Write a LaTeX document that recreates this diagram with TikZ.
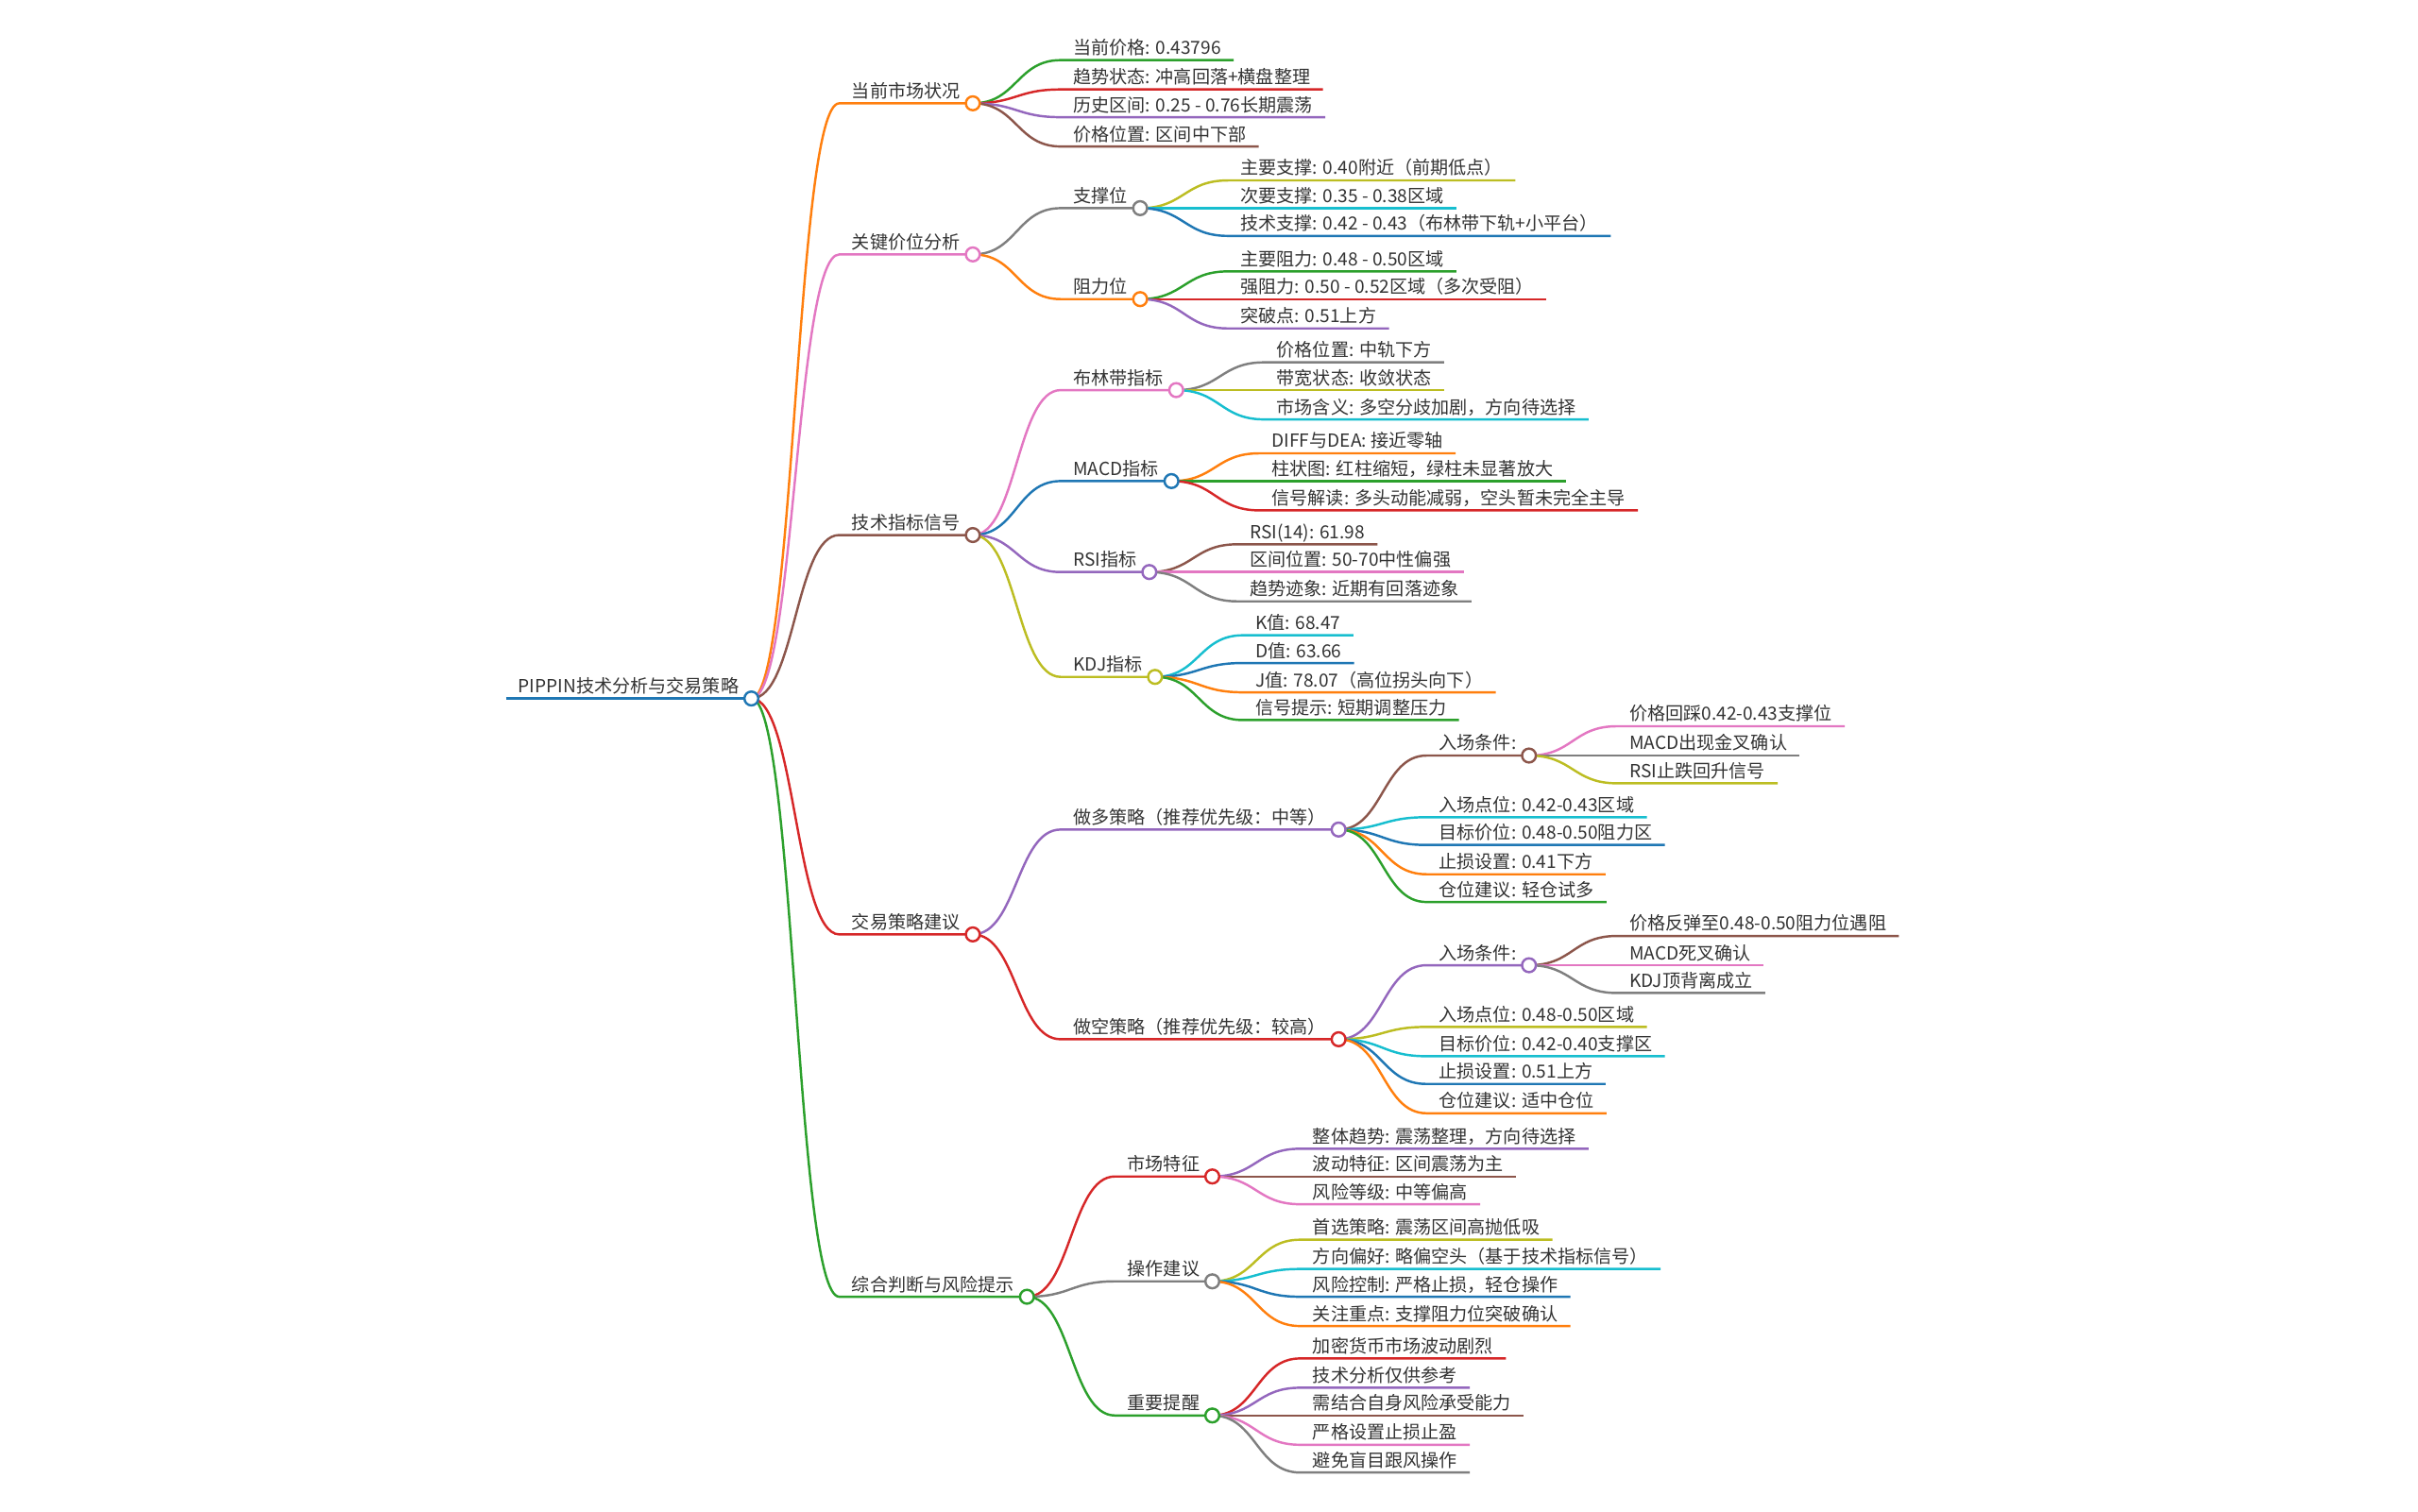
\documentclass[tikz,border=0pt]{standalone}
\usepackage{fontspec}
\setmainfont{Noto Sans CJK SC}
\usetikzlibrary{calc}
\definecolor{cblue}{HTML}{1F77B4}
\definecolor{corange}{HTML}{FF7F0E}
\definecolor{cgreen}{HTML}{2CA02C}
\definecolor{cred}{HTML}{D62728}
\definecolor{cpurple}{HTML}{9467BD}
\definecolor{cbrown}{HTML}{8C564B}
\definecolor{cpink}{HTML}{E377C2}
\definecolor{cgray}{HTML}{7F7F7F}
\definecolor{colive}{HTML}{BCBD22}
\definecolor{ccyan}{HTML}{17BECF}
\definecolor{txt}{HTML}{333333}

\begin{document}
\begin{tikzpicture}[x=1pt,y=-1pt]
\tikzset{
  topic/.style={anchor=south west, inner xsep=8pt, inner ysep=3.5pt, text depth=0pt, text=txt, font=\fontsize{11.7pt}{13pt}\selectfont},
  uline/.style={line width=1.5pt},
  knot/.style={circle, fill=white, line width=1.5pt, minimum size=9pt, inner sep=0pt},
}
\useasboundingbox (0,0) rectangle (1568,980);

% root and first level
\node[topic] (root) at (328,453) {PIPPIN技术分析与交易策略};
\path (root.south east) + (57,0) coordinate (rootX);
\node[topic] (mkt) at (rootX |- 0,67) {当前市场状况};
\node[topic] (key) at (rootX |- 0,165) {关键价位分析};
\node[topic] (ind) at (rootX |- 0,347) {技术指标信号};
\node[topic] (plan) at (rootX |- 0,606) {交易策略建议};
\node[topic] (sum) at (rootX |- 0,841) {综合判断与风险提示};

% market state
\path (mkt.south east) + (57,0) coordinate (mktX);
\node[topic] (mkt1) at (mktX |- 0,39) {当前价格: 0.43796};
\node[topic] (mkt2) at (mktX |- 0,58) {趋势状态: 冲高回落+横盘整理};
\node[topic] (mkt3) at (mktX |- 0,76) {历史区间: 0.25 - 0.76长期震荡};
\node[topic] (mkt4) at (mktX |- 0,95) {价格位置: 区间中下部};

% key levels
\path (key.south east) + (57,0) coordinate (keyX);
\node[topic] (sup) at (keyX |- 0,135) {支撑位};
\node[topic] (res) at (keyX |- 0,194) {阻力位};
\path (sup.south east) + (57,0) coordinate (supX);
\node[topic] (sup1) at (supX |- 0,117) {主要支撑: 0.40附近（前期低点）};
\node[topic] (sup2) at (supX |- 0,135) {次要支撑: 0.35 - 0.38区域};
\node[topic] (sup3) at (supX |- 0,153) {技术支撑: 0.42 - 0.43（布林带下轨+小平台）};
\path (res.south east) + (57,0) coordinate (resX);
\node[topic] (res1) at (resX |- 0,176) {主要阻力: 0.48 - 0.50区域};
\node[topic] (res2) at (resX |- 0,194) {强阻力: 0.50 - 0.52区域（多次受阻）};
\node[topic] (res3) at (resX |- 0,213) {突破点: 0.51上方};

% indicators
\path (ind.south east) + (57,0) coordinate (indX);
\node[topic] (boll) at (indX |- 0,253) {布林带指标};
\node[topic] (macd) at (indX |- 0,312) {MACD指标};
\node[topic] (rsi) at (indX |- 0,371) {RSI指标};
\node[topic] (kdj) at (indX |- 0,439) {KDJ指标};
\path (boll.south east) + (57,0) coordinate (bollX);
\node[topic] (boll1) at (bollX |- 0,235) {价格位置: 中轨下方};
\node[topic] (boll2) at (bollX |- 0,253) {带宽状态: 收敛状态};
\node[topic] (boll3) at (bollX |- 0,272) {市场含义: 多空分歧加剧，方向待选择};
\path (macd.south east) + (57,0) coordinate (macdX);
\node[topic] (macd1) at (macdX |- 0,294) {DIFF与DEA: 接近零轴};
\node[topic] (macd2) at (macdX |- 0,312) {柱状图: 红柱缩短，绿柱未显著放大};
\node[topic] (macd3) at (macdX |- 0,331) {信号解读: 多头动能减弱，空头暂未完全主导};
\path (rsi.south east) + (57,0) coordinate (rsiX);
\node[topic] (rsi1) at (rsiX |- 0,353) {RSI(14): 61.98};
\node[topic] (rsi2) at (rsiX |- 0,371) {区间位置: 50-70中性偏强};
\node[topic] (rsi3) at (rsiX |- 0,390) {趋势迹象: 近期有回落迹象};
\path (kdj.south east) + (57,0) coordinate (kdjX);
\node[topic] (kdj1) at (kdjX |- 0,412) {K值: 68.47};
\node[topic] (kdj2) at (kdjX |- 0,430) {D值: 63.66};
\node[topic] (kdj3) at (kdjX |- 0,449) {J值: 78.07（高位拐头向下）};
\node[topic] (kdj4) at (kdjX |- 0,467) {信号提示: 短期调整压力};

% strategies
\path (plan.south east) + (57,0) coordinate (planX);
\node[topic] (lng) at (planX |- 0,538) {做多策略（推荐优先级：中等）};
\node[topic] (sht) at (planX |- 0,674) {做空策略（推荐优先级：较高）};
\path (lng.south east) + (57,0) coordinate (lngX);
\node[topic] (lngIn) at (lngX |- 0,490) {入场条件:};
\node[topic] (lng1) at (lngX |- 0,530) {入场点位: 0.42-0.43区域};
\node[topic] (lng2) at (lngX |- 0,548) {目标价位: 0.48-0.50阻力区};
\node[topic] (lng3) at (lngX |- 0,567) {止损设置: 0.41下方};
\node[topic] (lng4) at (lngX |- 0,585) {仓位建议: 轻仓试多};
\path (lngIn.south east) + (57,0) coordinate (lngInX);
\node[topic] (lngIn1) at (lngInX |- 0,471) {价格回踩0.42-0.43支撑位};
\node[topic] (lngIn2) at (lngInX |- 0,490) {MACD出现金叉确认};
\node[topic] (lngIn3) at (lngInX |- 0,508) {RSI止跌回升信号};
\path (sht.south east) + (57,0) coordinate (shtX);
\node[topic] (shtIn) at (shtX |- 0,626) {入场条件:};
\node[topic] (sht1) at (shtX |- 0,666) {入场点位: 0.48-0.50区域};
\node[topic] (sht2) at (shtX |- 0,685) {目标价位: 0.42-0.40支撑区};
\node[topic] (sht3) at (shtX |- 0,703) {止损设置: 0.51上方};
\node[topic] (sht4) at (shtX |- 0,722) {仓位建议: 适中仓位};
\path (shtIn.south east) + (57,0) coordinate (shtInX);
\node[topic] (shtIn1) at (shtInX |- 0,607) {价格反弹至0.48-0.50阻力位遇阻};
\node[topic] (shtIn2) at (shtInX |- 0,626) {MACD死叉确认};
\node[topic] (shtIn3) at (shtInX |- 0,644) {KDJ顶背离成立};

% summary
\path (sum.south east) + (57,0) coordinate (sumX);
\node[topic] (feat) at (sumX |- 0,763) {市场特征};
\node[topic] (ops) at (sumX |- 0,831) {操作建议};
\node[topic] (warn) at (sumX |- 0,918) {重要提醒};
\path (feat.south east) + (57,0) coordinate (featX);
\node[topic] (feat1) at (featX |- 0,745) {整体趋势: 震荡整理，方向待选择};
\node[topic] (feat2) at (featX |- 0,763) {波动特征: 区间震荡为主};
\node[topic] (feat3) at (featX |- 0,781) {风险等级: 中等偏高};
\path (ops.south east) + (57,0) coordinate (opsX);
\node[topic] (ops1) at (opsX |- 0,804) {首选策略: 震荡区间高抛低吸};
\node[topic] (ops2) at (opsX |- 0,823) {方向偏好: 略偏空头（基于技术指标信号）};
\node[topic] (ops3) at (opsX |- 0,841) {风险控制: 严格止损，轻仓操作};
\node[topic] (ops4) at (opsX |- 0,860) {关注重点: 支撑阻力位突破确认};
\path (warn.south east) + (57,0) coordinate (warnX);
\node[topic] (warn1) at (warnX |- 0,881) {加密货币市场波动剧烈};
\node[topic] (warn2) at (warnX |- 0,900) {技术分析仅供参考};
\node[topic] (warn3) at (warnX |- 0,918) {需结合自身风险承受能力};
\node[topic] (warn4) at (warnX |- 0,937) {严格设置止损止盈};
\node[topic] (warn5) at (warnX |- 0,955) {避免盲目跟风操作};

% branches
\draw[uline, cblue] (root.south west) -- (root.south east);
\draw[uline, corange] (root.south east) .. controls +(28.5,0) and +(-28.5,0) .. (mkt.south west) -- (mkt.south east);
\draw[uline, cpink] (root.south east) .. controls +(28.5,0) and +(-28.5,0) .. (key.south west) -- (key.south east);
\draw[uline, cbrown] (root.south east) .. controls +(28.5,0) and +(-28.5,0) .. (ind.south west) -- (ind.south east);
\draw[uline, cred] (root.south east) .. controls +(28.5,0) and +(-28.5,0) .. (plan.south west) -- (plan.south east);
\draw[uline, cgreen] (root.south east) .. controls +(28.5,0) and +(-28.5,0) .. (sum.south west) -- (sum.south east);

\draw[uline, cgreen] (mkt.south east) .. controls +(28.5,0) and +(-28.5,0) .. (mkt1.south west) -- (mkt1.south east);
\draw[uline, cred] (mkt.south east) .. controls +(28.5,0) and +(-28.5,0) .. (mkt2.south west) -- (mkt2.south east);
\draw[uline, cpurple] (mkt.south east) .. controls +(28.5,0) and +(-28.5,0) .. (mkt3.south west) -- (mkt3.south east);
\draw[uline, cbrown] (mkt.south east) .. controls +(28.5,0) and +(-28.5,0) .. (mkt4.south west) -- (mkt4.south east);

\draw[uline, cgray] (key.south east) .. controls +(28.5,0) and +(-28.5,0) .. (sup.south west) -- (sup.south east);
\draw[uline, corange] (key.south east) .. controls +(28.5,0) and +(-28.5,0) .. (res.south west) -- (res.south east);
\draw[uline, colive] (sup.south east) .. controls +(28.5,0) and +(-28.5,0) .. (sup1.south west) -- (sup1.south east);
\draw[uline, ccyan] (sup.south east) .. controls +(28.5,0) and +(-28.5,0) .. (sup2.south west) -- (sup2.south east);
\draw[uline, cblue] (sup.south east) .. controls +(28.5,0) and +(-28.5,0) .. (sup3.south west) -- (sup3.south east);
\draw[uline, cgreen] (res.south east) .. controls +(28.5,0) and +(-28.5,0) .. (res1.south west) -- (res1.south east);
\draw[uline, cred] (res.south east) .. controls +(28.5,0) and +(-28.5,0) .. (res2.south west) -- (res2.south east);
\draw[uline, cpurple] (res.south east) .. controls +(28.5,0) and +(-28.5,0) .. (res3.south west) -- (res3.south east);

\draw[uline, cpink] (ind.south east) .. controls +(28.5,0) and +(-28.5,0) .. (boll.south west) -- (boll.south east);
\draw[uline, cblue] (ind.south east) .. controls +(28.5,0) and +(-28.5,0) .. (macd.south west) -- (macd.south east);
\draw[uline, cpurple] (ind.south east) .. controls +(28.5,0) and +(-28.5,0) .. (rsi.south west) -- (rsi.south east);
\draw[uline, colive] (ind.south east) .. controls +(28.5,0) and +(-28.5,0) .. (kdj.south west) -- (kdj.south east);
\draw[uline, cgray] (boll.south east) .. controls +(28.5,0) and +(-28.5,0) .. (boll1.south west) -- (boll1.south east);
\draw[uline, colive] (boll.south east) .. controls +(28.5,0) and +(-28.5,0) .. (boll2.south west) -- (boll2.south east);
\draw[uline, ccyan] (boll.south east) .. controls +(28.5,0) and +(-28.5,0) .. (boll3.south west) -- (boll3.south east);
\draw[uline, corange] (macd.south east) .. controls +(28.5,0) and +(-28.5,0) .. (macd1.south west) -- (macd1.south east);
\draw[uline, cgreen] (macd.south east) .. controls +(28.5,0) and +(-28.5,0) .. (macd2.south west) -- (macd2.south east);
\draw[uline, cred] (macd.south east) .. controls +(28.5,0) and +(-28.5,0) .. (macd3.south west) -- (macd3.south east);
\draw[uline, cbrown] (rsi.south east) .. controls +(28.5,0) and +(-28.5,0) .. (rsi1.south west) -- (rsi1.south east);
\draw[uline, cpink] (rsi.south east) .. controls +(28.5,0) and +(-28.5,0) .. (rsi2.south west) -- (rsi2.south east);
\draw[uline, cgray] (rsi.south east) .. controls +(28.5,0) and +(-28.5,0) .. (rsi3.south west) -- (rsi3.south east);
\draw[uline, ccyan] (kdj.south east) .. controls +(28.5,0) and +(-28.5,0) .. (kdj1.south west) -- (kdj1.south east);
\draw[uline, cblue] (kdj.south east) .. controls +(28.5,0) and +(-28.5,0) .. (kdj2.south west) -- (kdj2.south east);
\draw[uline, corange] (kdj.south east) .. controls +(28.5,0) and +(-28.5,0) .. (kdj3.south west) -- (kdj3.south east);
\draw[uline, cgreen] (kdj.south east) .. controls +(28.5,0) and +(-28.5,0) .. (kdj4.south west) -- (kdj4.south east);

\draw[uline, cpurple] (plan.south east) .. controls +(28.5,0) and +(-28.5,0) .. (lng.south west) -- (lng.south east);
\draw[uline, cred] (plan.south east) .. controls +(28.5,0) and +(-28.5,0) .. (sht.south west) -- (sht.south east);
\draw[uline, cbrown] (lng.south east) .. controls +(28.5,0) and +(-28.5,0) .. (lngIn.south west) -- (lngIn.south east);
\draw[uline, ccyan] (lng.south east) .. controls +(28.5,0) and +(-28.5,0) .. (lng1.south west) -- (lng1.south east);
\draw[uline, cblue] (lng.south east) .. controls +(28.5,0) and +(-28.5,0) .. (lng2.south west) -- (lng2.south east);
\draw[uline, corange] (lng.south east) .. controls +(28.5,0) and +(-28.5,0) .. (lng3.south west) -- (lng3.south east);
\draw[uline, cgreen] (lng.south east) .. controls +(28.5,0) and +(-28.5,0) .. (lng4.south west) -- (lng4.south east);
\draw[uline, cpink] (lngIn.south east) .. controls +(28.5,0) and +(-28.5,0) .. (lngIn1.south west) -- (lngIn1.south east);
\draw[uline, cgray] (lngIn.south east) .. controls +(28.5,0) and +(-28.5,0) .. (lngIn2.south west) -- (lngIn2.south east);
\draw[uline, colive] (lngIn.south east) .. controls +(28.5,0) and +(-28.5,0) .. (lngIn3.south west) -- (lngIn3.south east);
\draw[uline, cpurple] (sht.south east) .. controls +(28.5,0) and +(-28.5,0) .. (shtIn.south west) -- (shtIn.south east);
\draw[uline, colive] (sht.south east) .. controls +(28.5,0) and +(-28.5,0) .. (sht1.south west) -- (sht1.south east);
\draw[uline, ccyan] (sht.south east) .. controls +(28.5,0) and +(-28.5,0) .. (sht2.south west) -- (sht2.south east);
\draw[uline, cblue] (sht.south east) .. controls +(28.5,0) and +(-28.5,0) .. (sht3.south west) -- (sht3.south east);
\draw[uline, corange] (sht.south east) .. controls +(28.5,0) and +(-28.5,0) .. (sht4.south west) -- (sht4.south east);
\draw[uline, cbrown] (shtIn.south east) .. controls +(28.5,0) and +(-28.5,0) .. (shtIn1.south west) -- (shtIn1.south east);
\draw[uline, cpink] (shtIn.south east) .. controls +(28.5,0) and +(-28.5,0) .. (shtIn2.south west) -- (shtIn2.south east);
\draw[uline, cgray] (shtIn.south east) .. controls +(28.5,0) and +(-28.5,0) .. (shtIn3.south west) -- (shtIn3.south east);

\draw[uline, cred] (sum.south east) .. controls +(28.5,0) and +(-28.5,0) .. (feat.south west) -- (feat.south east);
\draw[uline, cgray] (sum.south east) .. controls +(28.5,0) and +(-28.5,0) .. (ops.south west) -- (ops.south east);
\draw[uline, cgreen] (sum.south east) .. controls +(28.5,0) and +(-28.5,0) .. (warn.south west) -- (warn.south east);
\draw[uline, cpurple] (feat.south east) .. controls +(28.5,0) and +(-28.5,0) .. (feat1.south west) -- (feat1.south east);
\draw[uline, cbrown] (feat.south east) .. controls +(28.5,0) and +(-28.5,0) .. (feat2.south west) -- (feat2.south east);
\draw[uline, cpink] (feat.south east) .. controls +(28.5,0) and +(-28.5,0) .. (feat3.south west) -- (feat3.south east);
\draw[uline, colive] (ops.south east) .. controls +(28.5,0) and +(-28.5,0) .. (ops1.south west) -- (ops1.south east);
\draw[uline, ccyan] (ops.south east) .. controls +(28.5,0) and +(-28.5,0) .. (ops2.south west) -- (ops2.south east);
\draw[uline, cblue] (ops.south east) .. controls +(28.5,0) and +(-28.5,0) .. (ops3.south west) -- (ops3.south east);
\draw[uline, corange] (ops.south east) .. controls +(28.5,0) and +(-28.5,0) .. (ops4.south west) -- (ops4.south east);
\draw[uline, cred] (warn.south east) .. controls +(28.5,0) and +(-28.5,0) .. (warn1.south west) -- (warn1.south east);
\draw[uline, cpurple] (warn.south east) .. controls +(28.5,0) and +(-28.5,0) .. (warn2.south west) -- (warn2.south east);
\draw[uline, cbrown] (warn.south east) .. controls +(28.5,0) and +(-28.5,0) .. (warn3.south west) -- (warn3.south east);
\draw[uline, cpink] (warn.south east) .. controls +(28.5,0) and +(-28.5,0) .. (warn4.south west) -- (warn4.south east);
\draw[uline, cgray] (warn.south east) .. controls +(28.5,0) and +(-28.5,0) .. (warn5.south west) -- (warn5.south east);

% knots on the branching topics
\node[knot, draw=cblue] (rootK) at (root.south east) {};
\node[knot, draw=corange] (mktK) at (mkt.south east) {};
\node[knot, draw=cpink] (keyK) at (key.south east) {};
\node[knot, draw=cgray] (supK) at (sup.south east) {};
\node[knot, draw=corange] (resK) at (res.south east) {};
\node[knot, draw=cbrown] (indK) at (ind.south east) {};
\node[knot, draw=cpink] (bollK) at (boll.south east) {};
\node[knot, draw=cblue] (macdK) at (macd.south east) {};
\node[knot, draw=cpurple] (rsiK) at (rsi.south east) {};
\node[knot, draw=colive] (kdjK) at (kdj.south east) {};
\node[knot, draw=cred] (planK) at (plan.south east) {};
\node[knot, draw=cpurple] (lngK) at (lng.south east) {};
\node[knot, draw=cbrown] (lngInK) at (lngIn.south east) {};
\node[knot, draw=cred] (shtK) at (sht.south east) {};
\node[knot, draw=cpurple] (shtInK) at (shtIn.south east) {};
\node[knot, draw=cgreen] (sumK) at (sum.south east) {};
\node[knot, draw=cred] (featK) at (feat.south east) {};
\node[knot, draw=cgray] (opsK) at (ops.south east) {};
\node[knot, draw=cgreen] (warnK) at (warn.south east) {};
\end{tikzpicture}
\end{document}
